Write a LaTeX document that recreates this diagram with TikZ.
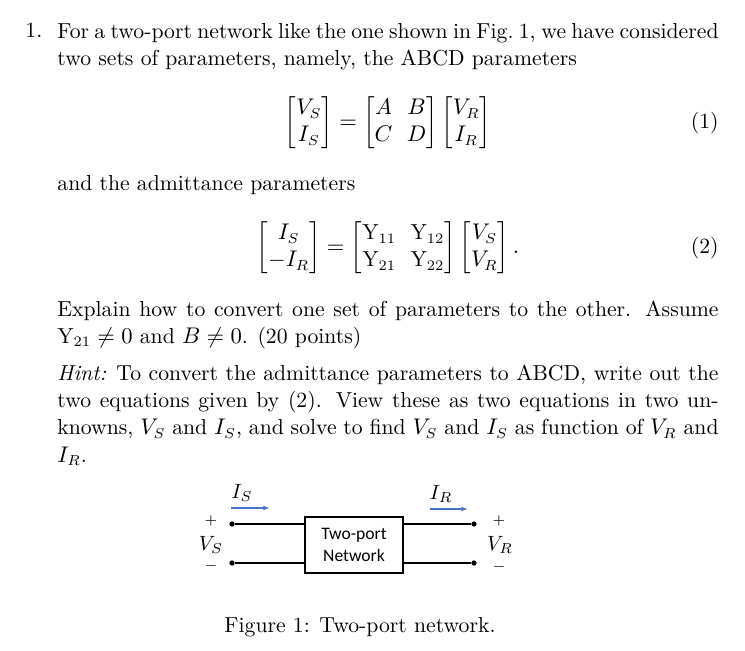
\documentclass[tikz,border=0pt]{standalone}
\usepackage{amsmath,amssymb}
\usepackage{fontspec}
\newfontfamily\calib{Carlito}
\usetikzlibrary{arrows.meta}
\tikzset{
  wire/.style={line width=0.6pt},
  cur/.style={draw={rgb,255:red,68;green,114;blue,196},line width=0.5pt,-{Stealth[length=3pt]}},
  dotn/.style={circle,fill,inner sep=0.9pt},
  lbl/.style={inner sep=0pt},
  txt/.style={font=\fontsize{10.5}{13.1}\selectfont},
}
\begin{document}
\begin{tikzpicture}[x=0.484pt,y=-0.484pt]
\useasboundingbox (0,0) rectangle (745,651);
\node[lbl,txt,anchor=north west] (num) at (25,23) {1.};
\node[lbl,txt,anchor=north west,text width=320pt,align=justify] (body) at (57,23) {%
\abovedisplayskip=11.5pt\belowdisplayskip=11.5pt\arraycolsep=3.5pt
For a two-port network like the one shown in Fig.~1, we have considered two sets of parameters, namely, the ABCD parameters
\begin{equation}
\begin{bmatrix} V_S\\ I_S\end{bmatrix} = \begin{bmatrix} A & B\\ C & D\end{bmatrix}\begin{bmatrix} V_R\\ I_R\end{bmatrix}
\end{equation}
and the admittance parameters
\begin{equation}
\begin{bmatrix} I_S\\ -I_R\end{bmatrix} = \begin{bmatrix} \mathrm{Y}_{11} & \mathrm{Y}_{12}\\ \mathrm{Y}_{21} & \mathrm{Y}_{22}\end{bmatrix}\begin{bmatrix} V_S\\ V_R\end{bmatrix}.
\end{equation}
Explain how to convert one set of parameters to the other. Assume $\mathrm{Y}_{21}\neq 0$ and $B\neq 0$. (20 points)\par\vspace{5pt}
\textit{Hint:} To convert the admittance parameters to ABCD, write out the\linebreak two equations given by (2). View these as two equations in two un-\linebreak knowns, $V_S$ and $I_S$, and solve to find $V_S$ and $I_S$ as function of $V_R$ and\linebreak $I_R$.};
% figure
\node[draw,line width=0.5pt,minimum width=98*0.484pt,minimum height=56*0.484pt,inner sep=0pt,align=center,font=\calib\fontsize{8.5}{10.5}\selectfont] (box) at (354,545) {Two-port\\Network};
\node[dotn] (ls) at (232,524) {};
\node[dotn] (lb) at (232,563) {};
\node[dotn] (rs) at (474,524) {};
\node[dotn] (rb) at (474,563) {};
\draw[wire] (ls) -- (ls -| box.west);
\draw[wire] (lb) -- (lb -| box.west);
\draw[wire] (rs) -- (rs -| box.east);
\draw[wire] (rb) -- (rb -| box.east);
\node[lbl,font=\scriptsize] (lp) at (211,521) {$+$};
\node[lbl] (lv) at (211,545) {$V_S$};
\node[lbl,font=\scriptsize] (lm) at (211,566) {$-$};
\node[lbl,font=\scriptsize] (rp) at (499,521) {$+$};
\node[lbl] (rv) at (500,545) {$V_R$};
\node[lbl,font=\scriptsize] (rm) at (499,567) {$-$};
\node[lbl] (is) at (242,493) {$I_S$};
\node[lbl] (ir) at (441,494) {$I_R$};
\coordinate (a1) at (231,508); \coordinate (a2) at (269,508);
\coordinate (b1) at (430,509); \coordinate (b2) at (467,509);
\draw[cur] (a1) -- (a2);
\draw[cur] (b1) -- (b2);
\node[lbl,txt] (cap) at (360,627) {Figure 1: Two-port network.};
\end{tikzpicture}
\end{document}
